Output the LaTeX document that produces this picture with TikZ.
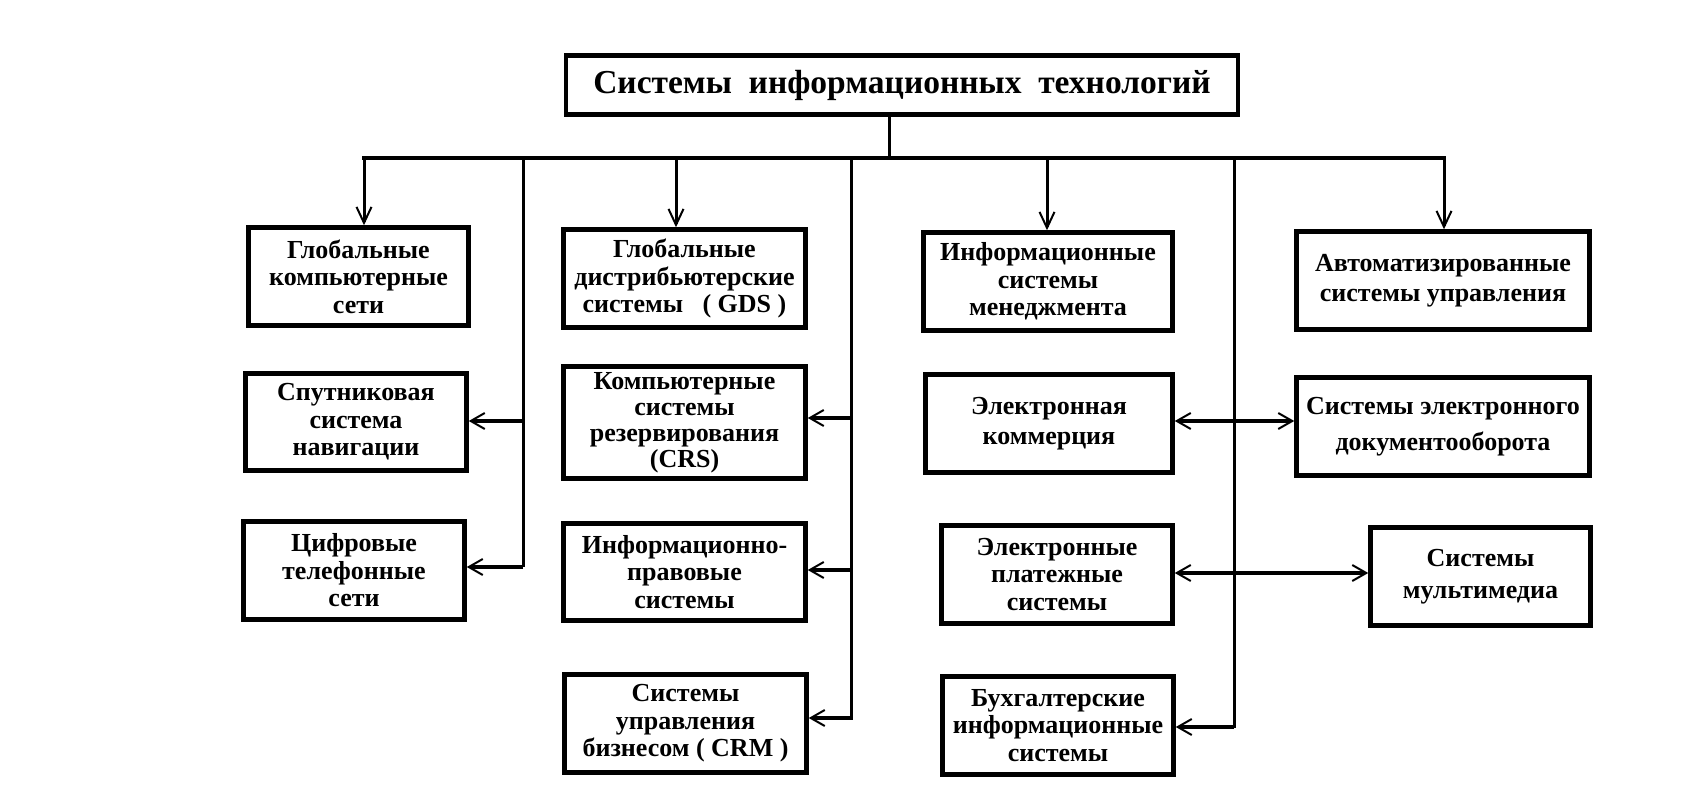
\documentclass[tikz,border=0pt]{standalone}
\usepackage{fontspec}
\setmainfont{Liberation Serif}
\usetikzlibrary{arrows.meta}
\tikzset{
  box/.style={draw, line width=4.5pt, align=center, inner sep=0pt, font=\fontsize{26}{27.5}\selectfont\bfseries},
  conn/.style={line width=3pt},
  arr/.style={line width=3pt, -{Straight Barb[length=16pt,width=15pt,line width=2pt]}},
  harr/.style={line width=4.5pt, -{Straight Barb[length=14pt,width=16pt,line width=2pt]}},
  biarr/.style={line width=4.5pt, {Straight Barb[length=14pt,width=16pt,line width=2pt]}-{Straight Barb[length=14pt,width=16pt,line width=2pt]}}
}
\begin{document}
\begin{tikzpicture}[x=1pt,y=-1pt]
\fill[white] (0,0) rectangle (1700,800);
\useasboundingbox (0,0) rectangle (1700,800);

\node[box, minimum width=672pt, minimum height=59pt, font=\fontsize{33.5}{36}\selectfont\bfseries] (title) at (902,85) {Системы\ \ информационных\ \ технологий};

\node[box, minimum width=220pt, minimum height=98pt] (gks) at (358.5,276.5) {Глобальные\\компьютерные\\сети};
\node[box, minimum width=221pt, minimum height=97pt] (sput) at (356,422) {Спутниковая\\система\\навигации};
\node[box, minimum width=221pt, minimum height=98pt] (tsif) at (354,570.5) {Цифровые\\телефонные\\сети};

\node[box, minimum width=242pt, minimum height=98pt] (gds) at (684.5,278.5) {Глобальные\\дистрибьютерские\\системы\ \ \ ( GDS )};
\node[box, minimum width=242pt, minimum height=112pt, font=\fontsize{26}{26}\selectfont\bfseries] (crs) at (684.5,422.5) {Компьютерные\\системы\\резервирования\\(CRS)};
\node[box, minimum width=242pt, minimum height=97pt] (ips) at (684.5,572) {Информационно-\\правовые\\системы};
\node[box, minimum width=242pt, minimum height=98pt] (crm) at (685.5,723.5) {Системы\\управления\\бизнесом ( CRM )};

\node[box, minimum width=249pt, minimum height=98pt] (ism) at (1048,281.5) {Информационные\\системы\\менеджмента};
\node[box, minimum width=247pt, minimum height=98pt, font=\fontsize{26}{30}\selectfont\bfseries] (ek) at (1049,423.5) {Электронная\\коммерция};
\node[box, minimum width=231pt, minimum height=98pt] (eps) at (1057,574.5) {Электронные\\платежные\\системы};
\node[box, minimum width=231pt, minimum height=98pt] (buh) at (1058,725.5) {Бухгалтерские\\информационные\\системы};

\node[box, minimum width=293pt, minimum height=98pt, font=\fontsize{26}{30}\selectfont\bfseries] (asu) at (1443,280.5) {Автоматизированные\\системы управления};
\node[box, minimum width=293pt, minimum height=98pt, font=\fontsize{26}{36}\selectfont\bfseries] (sed) at (1443,426.5) {Системы электронного\\документооборота};
\node[box, minimum width=220pt, minimum height=98pt, font=\fontsize{26}{32}\selectfont\bfseries] (mm) at (1480.5,576.5) {Системы\\мультимедиа};

% bus and trunks
\coordinate (top) at (889,158);
\coordinate (busL) at (364,158);
\coordinate (busR) at (1444,158);
\coordinate (b2) at (676,158);
\coordinate (b3) at (1047,158);
\coordinate (t1) at (523,158);
\coordinate (t2) at (851,158);
\coordinate (t3) at (1234,158);
\coordinate (t1e) at (523,567);
\coordinate (t2e) at (851,720);
\coordinate (t3e) at (1234,728);

\draw[conn] (top |- title.south) -- (top);
\draw[line width=4pt, line cap=rect] (busL) -- (busR);

\draw[arr] (busL) -- (busL |- gks.north);
\draw[arr] (b2) -- (b2 |- gds.north);
\draw[arr] (b3) -- (b3 |- ism.north);
\draw[arr] (busR) -- (busR |- asu.north);

\draw[conn] (t1) -- (t1e);
\draw[conn] (t2) -- (t2e);
\draw[conn] (t3) -- (t3e);

\draw[harr] (t1 |- 0,421) -- (sput.east |- 0,421);
\draw[harr] (t1e) -- (tsif.east |- t1e);
\draw[harr] (t2 |- 0,418) -- (crs.east |- 0,418);
\draw[harr] (t2 |- 0,570) -- (ips.east |- 0,570);
\draw[harr] (t2 |- 0,718) -- (crm.east |- 0,718);
\draw[harr] (t3 |- 0,727) -- (buh.east |- 0,727);

\draw[biarr] (ek.east |- 0,421) -- (sed.west |- 0,421);
\draw[biarr] (eps.east |- 0,573) -- (mm.west |- 0,573);
\end{tikzpicture}
\end{document}
